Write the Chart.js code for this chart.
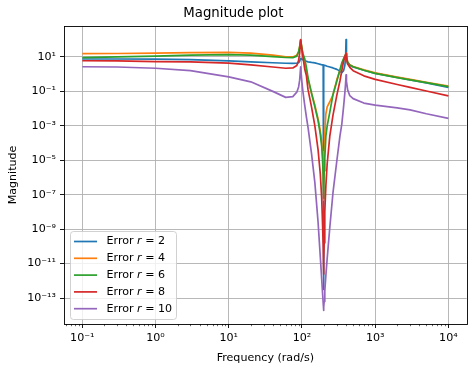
<!DOCTYPE html>
<html>
<head>
<meta charset="utf-8">
<title>Magnitude plot</title>
<script src="https://cdn.jsdelivr.net/npm/chart.js@4"></script>
<style>
  html, body { margin: 0; padding: 0; background: #fff; }
</style>
</head>
<body>
<canvas id="myChart" width="474" height="372"></canvas>
<script>
'use strict';

// frequencies (rad/s) shared by every error curve
const freq = [0.1, 0.3, 1, 3, 10, 20, 40, 60, 75, 85,
  90, 93, 96, 99, 103, 109, 115, 121, 135, 150,
  166, 178, 186, 191, 195, 197, 198, 199, 201, 205,
  212, 221, 240, 265, 300, 330, 350, 370, 385, 395,
  400, 405, 420, 450, 500, 700, 1000, 2000, 3000, 5000, 10000];

const errR2 = [7.6, 7.6, 7.4, 6.9, 5.9, 5.2, 4.6, 4.3, 4.2, 4.3,
  4.6, 5.6, 8.3, 7.6, 6.8, 6.0, 5.6, 5.2, 4.8, 4.5,
  4.0, 3.7, 3.5, 3.5, 3.4, 3.4, 3.2e-13, 3.4, 3.3, 3.2,
  3.1, 2.9, 2.6, 2.3, 1.9, 1.5, 1.2, 1.6, 3.2, 10,
  102, 12.6, 4.0, 3.2, 2.6, 1.7, 1.1, 0.65, 0.47, 0.31, 0.17];

const errR4 = [15.5, 15.8, 16.6, 17.8, 18.2, 16.6, 12.6, 10, 10, 12.6,
  20, 40, 95, 40, 12.6, 4.0, 1.4, 0.5, 0.079, 0.016,
  2.5e-3, 5e-4, 1.26e-4, 3.2e-5, 4e-6, 6.3e-7, 5e-8, 1e-6, 3.2e-5, 3.2e-4,
  5e-3, 0.0126, 0.025, 0.063, 0.5, 1.6, 3.5, 7.1, 11.2, 14,
  16, 12.6, 5, 3.5, 2.8, 1.8, 1.2, 0.68, 0.5, 0.34, 0.2];

const errR6 = [9.1, 10, 11.2, 12.6, 13.5, 12.6, 10.5, 9.3, 9.1, 11.2,
  20, 40, 100, 40, 16, 7.9, 2.5, 0.63, 0.079, 0.0126,
  2e-3, 3.2e-4, 6.3e-5, 1e-5, 1.26e-6, 3.2e-7, 6.3e-8, 4e-7, 2.5e-6, 1.26e-5,
  2.5e-4, 1e-3, 6.3e-3, 0.063, 0.4, 1.8, 4.5, 7.9, 11.2, 13.2,
  14, 11.2, 5, 3.4, 2.7, 1.7, 1.12, 0.63, 0.47, 0.32, 0.19];

const errR8 = [6.0, 5.9, 5.4, 5.2, 4.4, 3.5, 2.6, 2.2, 2.3, 3.2,
  6.3, 16, 100, 32, 10, 2, 0.8, 0.126, 0.0126, 1e-3,
  4e-5, 1.6e-6, 6.3e-8, 2e-9, 1e-10, 1.6e-11, 2.5e-12, 1.6e-11, 1.6e-10, 1e-8,
  3.2e-7, 6.3e-6, 2.5e-4, 4e-3, 0.063, 0.4, 1.6, 5.6, 10, 14,
  16, 8.9, 4, 2.5, 1.6, 0.8, 0.5, 0.25, 0.17, 0.105, 0.055];

const errR10 = [2.7, 2.6, 2.2, 1.6, 0.7, 0.36, 0.1, 0.045, 0.05, 0.09,
  0.18, 0.45, 2.7, 0.5, 0.1, 0.016, 3.2e-3, 8e-4, 2.5e-5, 5e-7,
  2.5e-9, 2.5e-11, 1.26e-12, 2e-13, 5e-14, 2.8e-14, 1.9e-14, 2.8e-14, 6.3e-14, 2.5e-13,
  2e-12, 2e-11, 1.26e-9, 1.26e-7, 1e-5, 2.5e-4, 1.26e-3, 0.0126, 0.079, 0.32,
  0.9, 0.4, 0.126, 0.056, 0.038, 0.021, 0.016, 0.011, 8.5e-3, 5e-3, 2.7e-3];

const orders = ['2', '4', '6', '8', '10'];
const colors = ['#1f77b4', '#ff7f0e', '#2ca02c', '#d62728', '#9467bd'];
const xTicks = [0.1, 1, 10, 100, 1000, 10000];
const yTicks = [1e-13, 1e-11, 1e-9, 1e-7, 1e-5, 1e-3, 1e-1, 10];
const xLimits = [0.0562, 17783];
const yLimits = [3.1e-15, 630];

const allErrors = [errR2, errR4, errR6, errR8, errR10];
const fontFamily = '"DejaVu Sans", sans-serif';

const supChars = { '-': '\u207B', '0': '\u2070', '1': '\u00B9', '2': '\u00B2', '3': '\u00B3',
  '4': '\u2074', '5': '\u2075', '6': '\u2076', '7': '\u2077', '8': '\u2078', '9': '\u2079' };

function powerLabel(value) {
  let exp = String(Math.round(Math.log10(value)));
  return '10' + exp.split('').map(c => supChars[c]).join('');
}

// spines, minor ticks and the legend box, drawn like matplotlib does
const framePlugin = {
  id: 'frame',
  afterDraw(chart) {
    const ctx = chart.ctx;
    const area = chart.chartArea;
    const xScale = chart.scales.x;
    ctx.save();

    ctx.strokeStyle = '#000';
    ctx.lineWidth = 0.6;
    for (let d = -2; d <= 4; d++) {
      for (let m = 2; m <= 9; m++) {
        let v = m * Math.pow(10, d);
        if (v < xLimits[0] || v > xLimits[1]) continue;
        let px = Math.round(xScale.getPixelForValue(v)) + 0.5;
        ctx.beginPath();
        ctx.moveTo(px, area.bottom);
        ctx.lineTo(px, area.bottom + 2.2);
        ctx.stroke();
      }
    }

    ctx.lineWidth = 0.9;
    ctx.strokeRect(Math.round(area.left) + 0.5, Math.round(area.top) + 0.5,
      Math.round(area.right - area.left), Math.round(area.bottom - area.top));

    // legend
    const lx = 70.5, ly = 231.5, lw = 106, lh = 88;
    ctx.beginPath();
    ctx.roundRect(lx, ly, lw, lh, 3);
    ctx.fillStyle = 'rgba(255,255,255,0.8)';
    ctx.fill();
    ctx.strokeStyle = '#cccccc';
    ctx.lineWidth = 0.9;
    ctx.stroke();

    ctx.textBaseline = 'middle';
    for (let i = 0; i < orders.length; i++) {
      let y = 241.5 + i * 16.8;
      ctx.strokeStyle = colors[i];
      ctx.lineWidth = 1.7;
      ctx.beginPath();
      ctx.moveTo(74, y);
      ctx.lineTo(97, y);
      ctx.stroke();

      let x = 106.5;
      ctx.fillStyle = '#000';
      ctx.font = '11.1px ' + fontFamily;
      ctx.fillText('Error ', x, y);
      x += ctx.measureText('Error ').width;
      ctx.font = 'italic 11.1px ' + fontFamily;
      ctx.fillText('r', x, y);
      x += ctx.measureText('r').width;
      ctx.font = '11.1px ' + fontFamily;
      ctx.fillText(' = ' + orders[i], x, y);
    }
    ctx.restore();
  }
};

const tickFont = { family: fontFamily, size: 11.1 };

const data = {
  datasets: allErrors.map((vals, i) => ({
    label: 'Error r = ' + orders[i],
    data: freq.map((f, j) => ({ x: f, y: vals[j] })),
    borderColor: colors[i],
    backgroundColor: colors[i],
    borderWidth: 1.7,
    borderJoinStyle: 'round',
    pointRadius: 0,
    fill: false,
    tension: 0,
    order: allErrors.length - i
  }))
};

const config = {
  type: 'line',
  data: data,
  options: {
    responsive: false,
    animation: false,
    devicePixelRatio: 1,
    layout: { padding: { left: 0, right: 7.3, top: 0, bottom: 0 } },
    plugins: {
      legend: { display: false },
      tooltip: { enabled: false },
      title: {
        display: true,
        text: 'Magnitude plot',
        color: '#000',
        font: { family: fontFamily, size: 13.3, weight: 'normal' },
        padding: { top: 5.5, bottom: 4.5 }
      }
    },
    scales: {
      x: {
        type: 'logarithmic',
        bounds: 'data',
        min: xLimits[0],
        max: xLimits[1],
        afterBuildTicks: (scale) => { scale.ticks = xTicks.map(v => ({ value: v, major: true })); },
        afterFit: (scale) => { scale.height = 48; },
        ticks: {
          autoSkip: false, maxRotation: 0, padding: 3, color: '#000', font: tickFont,
          callback: (value) => powerLabel(value)
        },
        grid: { color: '#b0b0b0', lineWidth: 0.9, tickColor: '#000', tickLength: 4 },
        border: { display: false },
        title: {
          display: true, text: 'Frequency (rad/s)', color: '#000', font: tickFont,
          padding: { top: 0, bottom: 7.3 }
        }
      },
      y: {
        type: 'logarithmic',
        bounds: 'data',
        min: yLimits[0],
        max: yLimits[1],
        afterBuildTicks: (scale) => { scale.ticks = yTicks.map(v => ({ value: v, major: true })); },
        afterFit: (scale) => { scale.width = 64; },
        ticks: {
          autoSkip: false, padding: 4, color: '#000', font: tickFont,
          callback: (value) => powerLabel(value)
        },
        grid: { color: '#b0b0b0', lineWidth: 0.9, tickColor: '#000', tickLength: 4 },
        border: { display: false },
        title: {
          display: true, text: 'Magnitude', color: '#000', font: tickFont,
          padding: { top: 6.7, bottom: 0 }
        }
      }
    }
  },
  plugins: [framePlugin]
};

let canvasChart = document.getElementById('myChart');
const myChart = new Chart(canvasChart, config);
</script>
</body>
</html>
